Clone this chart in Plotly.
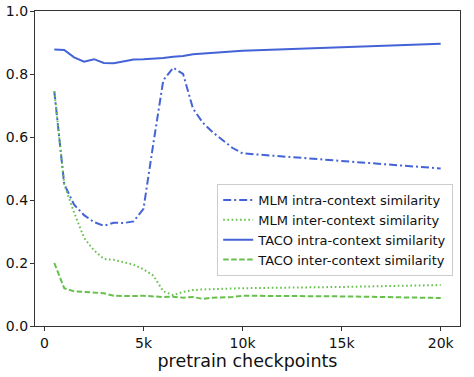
import plotly.graph_objects as go

checkpoints = [500, 1000, 1500, 2000, 2500, 3000, 3500, 4000, 4500, 5000,
               5500, 6000, 6500, 7000, 7500, 8000, 8500, 9000, 9500, 10000,
               15000, 20000]

mlm_intra = [0.745, 0.45, 0.385, 0.352, 0.33, 0.318, 0.328, 0.327, 0.332, 0.372,
             0.58, 0.78, 0.82, 0.80, 0.69, 0.645, 0.615, 0.59, 0.565, 0.548,
             0.525, 0.50]
mlm_inter = [0.745, 0.45, 0.36, 0.28, 0.24, 0.213, 0.21, 0.202, 0.195, 0.18,
             0.16, 0.11, 0.098, 0.108, 0.114, 0.116, 0.117, 0.118, 0.119, 0.12,
             0.124, 0.13]
taco_intra = [0.878, 0.876, 0.853, 0.839, 0.847, 0.835, 0.834, 0.839, 0.846, 0.847,
              0.848, 0.851, 0.855, 0.857, 0.863, 0.865, 0.868, 0.870, 0.872, 0.874,
              0.885, 0.896]
taco_inter = [0.2, 0.12, 0.11, 0.108, 0.106, 0.104, 0.096, 0.095, 0.095, 0.096,
              0.093, 0.092, 0.093, 0.09, 0.092, 0.086, 0.09, 0.09, 0.092, 0.096,
              0.094, 0.089]

x_tick_vals = [0, 5000, 10000, 15000, 20000]
x_tick_text = ["0", "5k", "10k", "15k", "20k"]
y_tick_vals = [0.0, 0.2, 0.4, 0.6, 0.8, 1.0]
y_tick_text = ["0.0", "0.2", "0.4", "0.6", "0.8", "1.0"]

BLUE = "#4463d6"
GREEN = "#66c04c"

fig = go.Figure()
fig.add_trace(go.Scatter(x=checkpoints, y=mlm_intra, mode="lines",
                         name="MLM intra-context similarity",
                         line=dict(color=BLUE, width=2, dash="8px,3px,2px,3px")))
fig.add_trace(go.Scatter(x=checkpoints, y=mlm_inter, mode="lines",
                         name="MLM inter-context similarity",
                         line=dict(color=GREEN, width=2, dash="1.6px,2.6px")))
fig.add_trace(go.Scatter(x=checkpoints, y=taco_intra, mode="lines",
                         name="TACO intra-context similarity",
                         line=dict(color=BLUE, width=2)))
fig.add_trace(go.Scatter(x=checkpoints, y=taco_inter, mode="lines",
                         name="TACO inter-context similarity",
                         line=dict(color=GREEN, width=2, dash="5.5px,2.5px")))

axis_common = dict(showline=True, linecolor="#333333", linewidth=1.3, mirror=True,
                   showgrid=False, zeroline=False, ticks="outside", ticklen=4,
                   tickwidth=1.2, tickcolor="#333333", automargin=False,
                   tickfont=dict(family="DejaVu Sans", size=14, color="#111111"))

fig.update_layout(
    width=474, height=377,
    margin=dict(l=35, r=14, t=11, b=51),
    paper_bgcolor="white", plot_bgcolor="white",
    font=dict(family="DejaVu Sans", color="#111111"),
    xaxis=dict(range=[-475, 20975], tickvals=x_tick_vals, ticktext=x_tick_text,
               title=dict(text="pretrain checkpoints", font=dict(size=17.5), standoff=1),
               **axis_common),
    yaxis=dict(range=[0, 1.0], tickvals=y_tick_vals, ticktext=y_tick_text,
               ticklabelstandoff=-1, **axis_common),
    legend=dict(x=0.984, y=0.451, xanchor="right", yanchor="top",
                bgcolor="rgba(255,255,255,0.8)", bordercolor="#cccccc", borderwidth=1,
                font=dict(size=13, family="DejaVu Sans"), tracegroupgap=0),
    showlegend=True,
)

fig.write_html("out.html", config={"displayModeBar": False},
               post_script="document.body.style.margin='0';document.body.style.overflow='hidden';")
